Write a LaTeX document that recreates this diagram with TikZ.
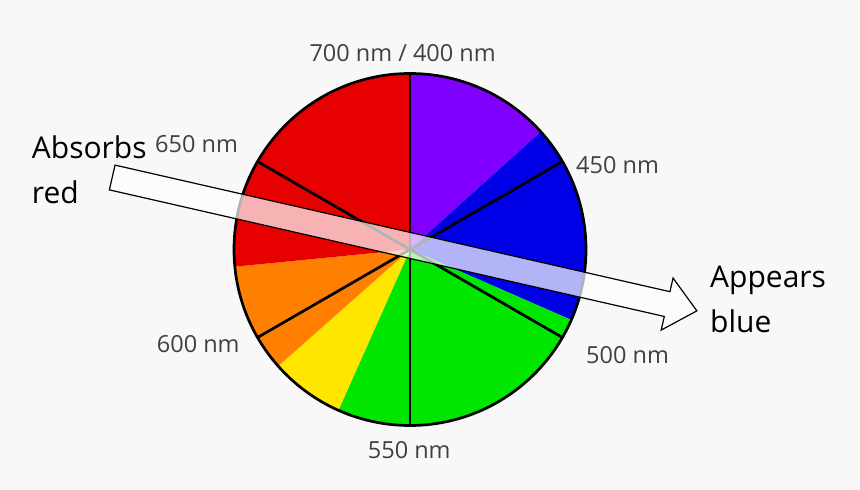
\documentclass[tikz,border=0pt]{standalone}
\usepackage{fontspec}
\setmainfont{Open Sans}
\definecolor{bgc}{RGB}{248,248,248}
\definecolor{cred}{RGB}{230,0,0}
\definecolor{cviolet}{RGB}{128,0,255}
\definecolor{cblue}{RGB}{0,0,230}
\definecolor{cgreen}{RGB}{0,230,0}
\definecolor{cyellow}{RGB}{255,230,0}
\definecolor{corange}{RGB}{255,128,0}
\definecolor{lblgray}{RGB}{64,64,64}
\begin{document}
\begin{tikzpicture}[x=1pt,y=1pt,
  nmlabel/.style={anchor=base west,inner sep=0pt,text=lblgray,font=\fontsize{23.5}{28}\selectfont},
  bigtext/.style={anchor=base west,inner sep=0pt,text=black,align=left,font=\fontsize{30}{44.7}\selectfont},
  spoke/.style={line width=2.7pt,black},
  rim/.style={line width=2.7pt,black},
  blockarrow/.style={fill=white,fill opacity=0.7,draw=black,draw opacity=1,line width=1.2pt,line join=miter}]
\fill[bgc] (0,0) rectangle (860,490);
\useasboundingbox (0,0) rectangle (860,490);
\def\R{176}
\coordinate (C) at (410,240.5);
% wedges
\fill[cviolet] (C) -- ++(42:\R) arc[start angle=42,end angle=90,radius=\R] -- cycle;
\fill[cblue] (C) -- ++(-23.6:\R) arc[start angle=-23.6,end angle=42,radius=\R] -- cycle;
\fill[cgreen] (C) -- ++(246:\R) arc[start angle=246,end angle=336.4,radius=\R] -- cycle;
\fill[cyellow] (C) -- ++(221.5:\R) arc[start angle=221.5,end angle=246,radius=\R] -- cycle;
\fill[corange] (C) -- ++(185.6:\R) arc[start angle=185.6,end angle=221.5,radius=\R] -- cycle;
\fill[cred] (C) -- ++(90:\R) arc[start angle=90,end angle=185.6,radius=\R] -- cycle;
% spokes
\foreach \a in {90,30,-30,270,210,150} {\draw[spoke,line cap=butt] (C) -- ++(\a:\R);}
\draw[rim] (C) circle[radius=\R];
% labels
\node[nmlabel] (l700) at (309.3,428.3) {700 nm / 400 nm};
\node[nmlabel] (l450) at (576,316.7) {450 nm};
\node[nmlabel] (l500) at (586,126.7) {500 nm};
\node[nmlabel] (l550) at (367.7,31.7) {550 nm};
\node[nmlabel] (l600) at (156.7,137.7) {600 nm};
\node[nmlabel] (l650) at (155,337.7) {650 nm};
\node[bigtext] (absorbs) at (31.7,286.7) {Absorbs\\red};
\node[bigtext] (appears) at (710,157.3) {Appears\\blue};
% block arrow
\begin{scope}[shift={(112.2,312.5)},rotate=-12.85]
\draw[blockarrow] (0,12.7) -- (569.2,12.7) -- (569.2,26.7) -- (599.7,0) -- (569.2,-26.7) -- (569.2,-12.7) -- (0,-12.7) -- cycle;
\end{scope}
\end{tikzpicture}
\end{document}
